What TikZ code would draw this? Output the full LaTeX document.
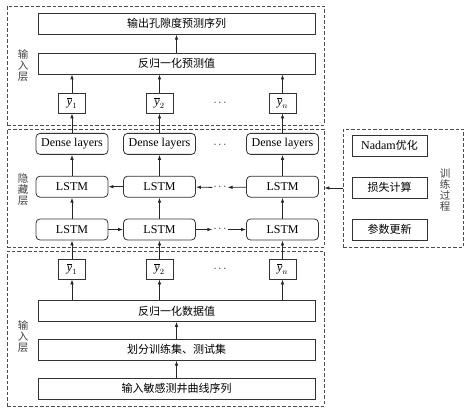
\documentclass[tikz,border=0pt]{standalone}
\usepackage{fontspec}
\setmainfont{Liberation Serif}
\newfontfamily\cjk{Noto Sans CJK SC}
\usetikzlibrary{positioning,arrows.meta}

\tikzset{
    widebox/.style={draw=black!80, line width=0.8pt, minimum width=277pt, minimum height=21pt, inner sep=0pt, font=\cjk\fontsize{11}{13}\selectfont},
    ybox/.style={draw=black!80, line width=0.8pt, minimum width=27pt, minimum height=20pt, inner sep=0pt, font=\fontsize{12}{14}\selectfont},
    rbox/.style={draw=black!80, line width=0.8pt, rounded corners=4pt, minimum width=72pt, minimum height=21pt, inner sep=0pt, font=\fontsize{12}{14}\selectfont},
    tbox/.style={draw=black!80, line width=0.8pt, minimum width=75pt, minimum height=21pt, inner sep=0pt, font=\cjk\fontsize{11}{13}\selectfont},
    frame/.style={draw=black!70, line width=0.8pt, dash pattern=on 3.5pt off 2pt, inner sep=0pt},
    vlabel/.style={align=center, font=\cjk\fontsize{10.5}{11}\selectfont, text=black!75},
    dotnode/.style={inner sep=1pt},
    flow/.style={->, line width=0.8pt, draw=black!85},
}
\newcommand{\ybar}[1]{$\overline{\mbox{\itshape y}}_{#1}$}

\begin{document}
\begin{tikzpicture}[x=1pt, y=1pt, font=\fontsize{11}{13}\selectfont, >={Latex[length=5pt,width=3.5pt]}]
    \useasboundingbox (0,0) rectangle (474,413);

    % dashed frames
    \node[frame, minimum width=317pt, minimum height=119pt] (toplayer) at (165.5,347.5) {};
    \node[frame, minimum width=317pt, minimum height=118pt] (hidlayer) at (165.5,225) {};
    \node[frame, minimum width=317pt, minimum height=155pt] (inlayer)  at (165.5,84.5) {};
    \node[frame, minimum width=120pt, minimum height=118pt] (train)    at (403,225) {};

    \node[vlabel] (toplab)   at (23,347) {输\\入\\层};
    \node[vlabel] (hidlab)   at (23,223) {隐\\藏\\层};
    \node[vlabel] (inlab)    at (23,76)  {输\\入\\层};
    \node[vlabel] (trainlab) at (445,223) {训\\练\\过\\程};

    % input layer
    \node[widebox] (input) at (176.5,24.5) {输入敏感测井曲线序列};
    \node[widebox, above=17pt of input] (split) {划分训练集、测试集};
    \node[widebox, above=17pt of split] (data)  {反归一化数据值};
    \node[ybox] (x1) at (72,144)    {\ybar{1}};
    \node[ybox] (x2) at (159.5,144) {\ybar{2}};
    \node[ybox] (xn) at (282.5,144) {\ybar{n}};
    \node[dotnode] (xdots) at (220,144) {$\cdots$};

    % hidden layer
    \node[rbox] (l1) at (72,183.5)    {LSTM};
    \node[rbox] (l2) at (159.5,183.5) {LSTM};
    \node[rbox] (l3) at (282.5,183.5) {LSTM};
    \node[dotnode] (ldots) at (220,183.5) {$\cdots$};
    \node[rbox, above=21pt of l1] (u1) {LSTM};
    \node[rbox, above=21pt of l2] (u2) {LSTM};
    \node[rbox, above=21pt of l3] (u3) {LSTM};
    \node[dotnode] (udots) at (220,225.5) {$\cdots$};
    \node[rbox, above=21pt of u1] (d1) {Dense layers};
    \node[rbox, above=21pt of u2] (d2) {Dense layers};
    \node[rbox, above=21pt of u3] (d3) {Dense layers};
    \node[dotnode] (ddots) at (220,267.5) {$\cdots$};

    % output side
    \node[ybox] (y1) at (72,310)    {\ybar{1}};
    \node[ybox] (y2) at (159.5,310) {\ybar{2}};
    \node[ybox] (yn) at (282.5,310) {\ybar{n}};
    \node[dotnode] (ydots) at (220,310) {$\cdots$};
    \node[widebox] (pred) at (176.5,349.5) {反归一化预测值};
    \node[widebox, above=18pt of pred] (out) {输出孔隙度预测序列};

    % training
    \node[tbox] (nadam) at (389.5,267.5) {{\rmfamily\fontsize{12}{14}\selectfont Nadam}优化};
    \node[tbox] (loss)  at (389.5,225.5) {损失计算};
    \node[tbox] (param) at (389.5,183.5) {参数更新};

    % connectors
    \draw[flow] (input) -- (split);
    \draw[flow] (split) -- (data);
    \draw[flow] (data.north -| x1) -- (x1);
    \draw[flow] (data.north -| x2) -- (x2);
    \draw[flow] (data.north -| xn) -- (xn);
    \draw[flow] (x1) -- (l1);
    \draw[flow] (x2) -- (l2);
    \draw[flow] (xn) -- (l3);
    \draw[flow] (l1) -- (u1);
    \draw[flow] (l2) -- (u2);
    \draw[flow] (l3) -- (u3);
    \draw[flow] (u1) -- (d1);
    \draw[flow] (u2) -- (d2);
    \draw[flow] (u3) -- (d3);
    \draw[flow] (d1) -- (y1);
    \draw[flow] (d2) -- (y2);
    \draw[flow] (d3) -- (yn);
    \draw[flow] (y1) -- (pred.south -| y1);
    \draw[flow] (y2) -- (pred.south -| y2);
    \draw[flow] (yn) -- (pred.south -| yn);
    \draw[flow] (pred) -- (out);

    \draw[flow] (l1) -- (l2);
    \draw[flow] (l2) -- (ldots);
    \draw[flow] (ldots) -- (l3);
    \draw[flow] (u3) -- (udots);
    \draw[flow] (udots) -- (u2);
    \draw[flow] (u2) -- (u1);

    \draw[flow] (train.west) -- (hidlayer.east);
\end{tikzpicture}
\end{document}
